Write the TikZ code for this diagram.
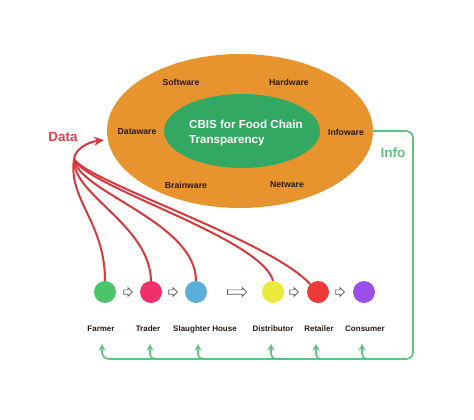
\documentclass[tikz,border=0pt]{standalone}
\usepackage{fontspec}
\setmainfont{Liberation Sans}
\usetikzlibrary{shapes.arrows,shapes.geometric,arrows.meta}
\definecolor{orangeE}{HTML}{E8942E}
\definecolor{greenE}{HTML}{33A862}
\definecolor{txt}{HTML}{2A1A12}
\definecolor{datared}{HTML}{E0404E}
\definecolor{linered}{HTML}{D43A3E}
\definecolor{infogreen}{HTML}{5EC67C}
\definecolor{cFarmer}{HTML}{4CC46C}
\definecolor{cTrader}{HTML}{F0306C}
\definecolor{cSlaughter}{HTML}{5AAED8}
\definecolor{cDistributor}{HTML}{EAEA3C}
\definecolor{cRetailer}{HTML}{F03A3A}
\definecolor{cConsumer}{HTML}{9A50E8}
\tikzset{
  wlabel/.style={font=\fontsize{8.7}{10}\selectfont\bfseries, text=txt, inner sep=0pt},
  blabel/.style={font=\fontsize{8}{10}\selectfont\bfseries, text=txt, inner sep=0pt},
  dot/.style={circle, minimum size=22pt, inner sep=0pt},
  flow/.style={single arrow, draw=txt!75, fill=white, line width=0.7pt, inner xsep=0pt, inner ysep=1.8pt,
     single arrow head extend=2.2pt, single arrow tip angle=90},
  dataline/.style={draw=linered, line width=2pt},
  infoline/.style={draw=infogreen, line width=1.7pt},
}
\begin{document}
\begin{tikzpicture}[x=1pt,y=-1pt]
\useasboundingbox (0,0) rectangle (474,420);
\fill[white] (0,0) rectangle (474,420);
% ellipses
\node (outer) [ellipse, fill=orangeE, minimum width=266pt, minimum height=154pt, inner sep=0pt] at (240,131) {};
\node (inner) [ellipse, fill=greenE, minimum width=156pt, minimum height=74pt, inner sep=0pt] at (242,131) {};
\node (cbis) [font=\fontsize{11.6}{15}\selectfont\bfseries, text=white, align=left, inner sep=0pt, anchor=west] at (189,133.5) {CBIS for Food Chain\\Transparency};
\node (sw) [wlabel] at (181,82) {Software};
\node (hw) [wlabel] at (289,82) {Hardware};
\node (dw) [wlabel] at (137,132) {Dataware};
\node (iw) [wlabel] at (346,132) {Infoware};
\node (bw) [wlabel] at (186,185) {Brainware};
\node (nw) [wlabel] at (287,185) {Netware};
\node (data) [font=\fontsize{13.4}{15}\selectfont\bfseries, text=datared, inner sep=0pt] at (63,137) {Data};
\node (info) [font=\fontsize{13.6}{15}\selectfont\bfseries, text=infogreen, inner sep=0pt] at (393,153) {Info};
% chain circles
\node (farmer) [dot, fill=cFarmer] at (105,292) {};
\node (trader) [dot, fill=cTrader] at (151,292) {};
\node (slaughter) [dot, fill=cSlaughter] at (196,292) {};
\node (distributor) [dot, fill=cDistributor] at (273,292) {};
\node (retailer) [dot, fill=cRetailer] at (318,292) {};
\node (consumer) [dot, fill=cConsumer] at (364,292) {};
% flow arrows
\node (a1) [flow, minimum height=8.5pt] at (127,292) {};
\node (a2) [flow, minimum height=8.5pt] at (172,292) {};
\node (a3) [flow, minimum height=19pt] at (236,292) {};
\node (a4) [flow, minimum height=8.5pt] at (293,292) {};
\node (a5) [flow, minimum height=8.5pt] at (339,292) {};
% labels
\node (lf) [blabel] at (101,329) {Farmer};
\node (lt) [blabel] at (148,329) {Trader};
\node (ls) [blabel] at (205,329) {Slaughter House};
\node (ld) [blabel] at (273,329) {Distributor};
\node (lr) [blabel] at (319,329) {Retailer};
\node (lc) [blabel] at (365,329) {Consumer};
% data lines
\coordinate (merge) at (74,159);
\coordinate (tip) at (104,140);
\draw[dataline] (farmer.north) .. controls (105,222) and (68,200) .. (merge);
\draw[dataline] (trader.north) .. controls (150,225) and (72,195) .. (merge);
\draw[dataline] (slaughter.north) .. controls (196,222) and (78,192) .. (merge);
\draw[dataline] (distributor.north) .. controls (262,238) and (84,186) .. (merge);
\draw[dataline] (retailer.north west) .. controls (270,240) and (88,182) .. (merge);
\draw[dataline, -{Stealth[length=10pt,width=9pt]}] (merge) .. controls (75,149) and (88,142) .. (tip);
% info lines
\coordinate (c1) at (413,131);
\coordinate (c2) at (413,359);
\coordinate (b1) at (102,359);
\draw[infoline, rounded corners=7pt, -{Stealth[length=6.5pt,width=7pt]}] (outer.east) -- (c1) -- (c2) -- (b1) -- (102,344);
\foreach \x in {150,198,271,316,362}{
  \draw[infoline, rounded corners=5pt, -{Stealth[length=6.5pt,width=7pt]}] (\x+8,359) -- (\x,359) -- (\x,344);
}
\end{tikzpicture}
\end{document}
